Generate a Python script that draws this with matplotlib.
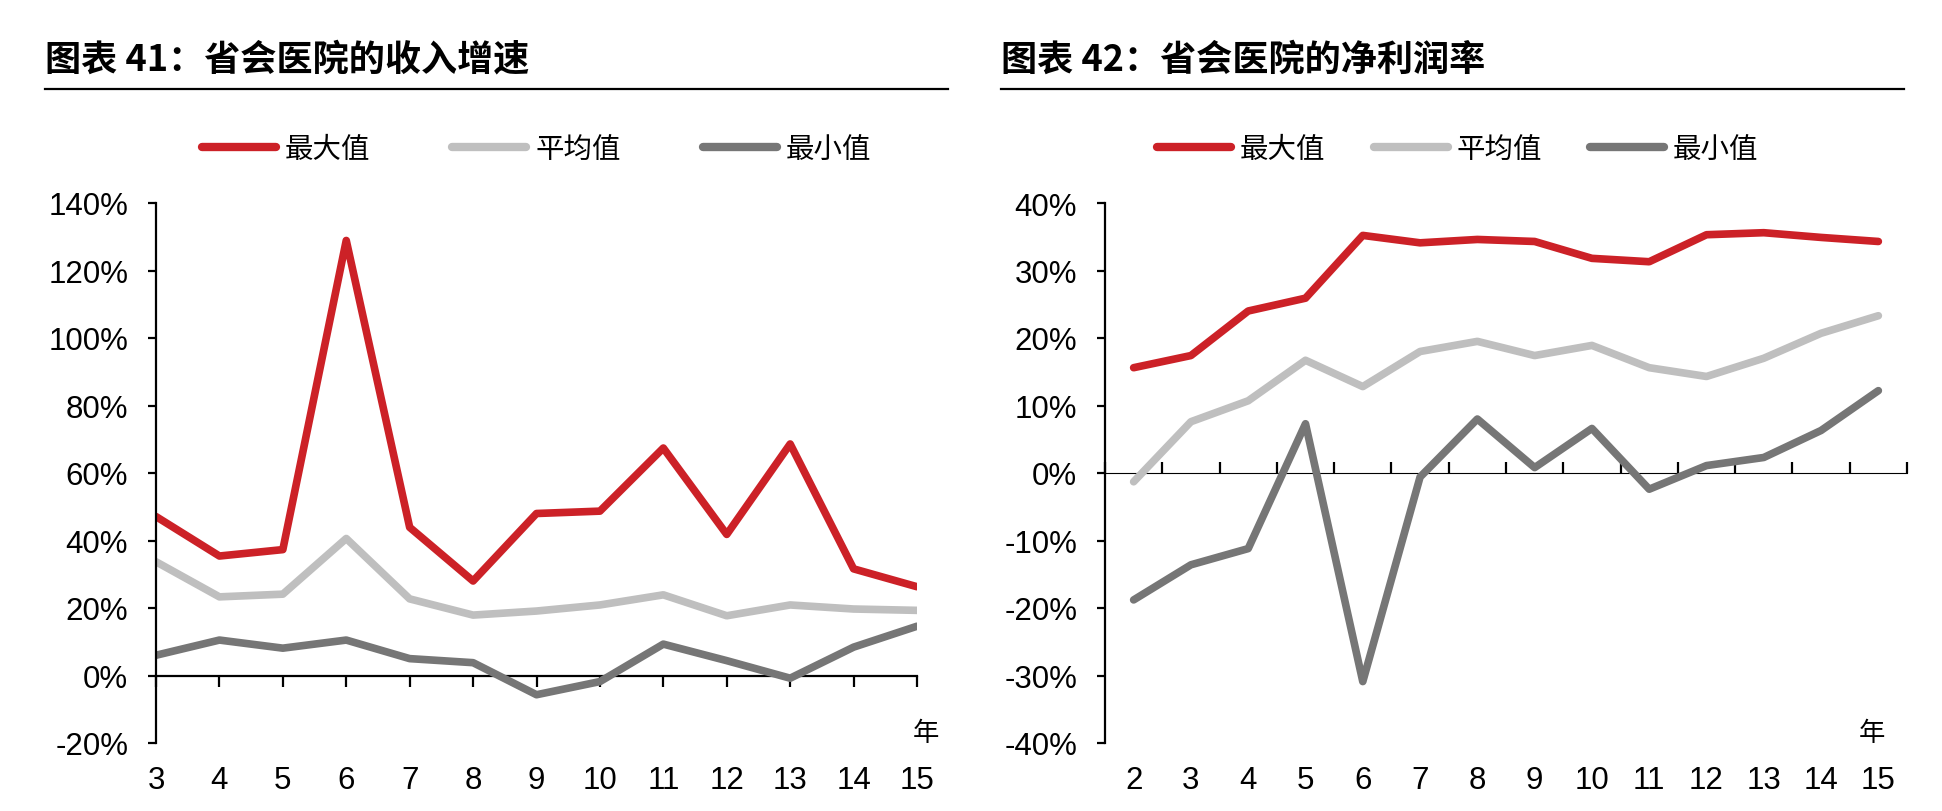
import matplotlib
matplotlib.use("Agg")
import matplotlib.pyplot as plt
from matplotlib import font_manager as fm
from matplotlib.lines import Line2D
from matplotlib.ticker import FuncFormatter

# data (percent)
years_a = [3, 4, 5, 6, 7, 8, 9, 10, 11, 12, 13, 14, 15]
growth_max = [47.1, 35.4, 37.3, 128.9, 43.9, 28.0, 48.0, 48.7, 67.4, 41.8, 68.6, 31.6, 26.3]
growth_avg = [33.7, 23.3, 24.1, 40.6, 22.7, 17.9, 19.1, 20.9, 23.9, 17.7, 20.9, 19.7, 19.3]
growth_min = [6.0, 10.5, 8.1, 10.5, 5.0, 3.8, -5.7, -1.8, 9.3, 4.4, -0.8, 8.4, 14.6]

years_b = [2, 3, 4, 5, 6, 7, 8, 9, 10, 11, 12, 13, 14, 15]
margin_max = [15.6, 17.4, 24.0, 25.9, 35.2, 34.1, 34.6, 34.3, 31.8, 31.3, 35.3, 35.6, 34.9, 34.3]
margin_avg = [-1.3, 7.6, 10.7, 16.7, 12.8, 18.0, 19.5, 17.4, 18.9, 15.6, 14.3, 17.0, 20.7, 23.3]
margin_min = [-18.8, -13.6, -11.2, 7.3, -30.9, -0.6, 8.0, 0.8, 6.6, -2.4, 1.1, 2.3, 6.3, 12.2]

titles = ["图表 41：省会医院的收入增速", "图表 42：省会医院的净利润率"]
series_names = ["最大值", "平均值", "最小值"]
colors = ["#CC2127", "#BFBFBF", "#767676"]

installed = {f.name for f in fm.fontManager.ttflist}
num_font = "Liberation Sans Narrow" if "Liberation Sans Narrow" in installed else "Liberation Sans"
num_size = 25 if num_font == "Liberation Sans Narrow" else 22.5
cjk = "Noto Sans CJK SC"

fig = plt.figure(figsize=(19.42, 8.12), dpi=100)
W, H = 1942, 812

def setup(ax, xs, series, ylim, yticks, xlim, sec_ticks, zero_frac, nian_x, leg_x, colsp):
    for vals, c, name in zip(series, colors, series_names):
        ax.plot(xs, vals, color=c, lw=5.5, label=name, solid_capstyle="round",
                solid_joinstyle="round")
    ax.set_xlim(*xlim)
    ax.set_ylim(*ylim)
    ax.set_yticks(yticks)
    ax.yaxis.set_major_formatter(FuncFormatter(lambda v, p: "%d%%" % v))
    ax.set_xticks(xs)
    ax.set_xticklabels([str(x) for x in xs])
    for s in ["top", "right", "bottom"]:
        ax.spines[s].set_visible(False)
    ax.spines["left"].set_linewidth(1.6)
    ax.tick_params(axis="x", length=0, pad=16)
    ax.tick_params(axis="y", direction="out", length=6, width=1.6, pad=14)
    for lab in ax.get_xticklabels() + ax.get_yticklabels():
        lab.set_fontfamily(num_font)
        lab.set_fontsize(num_size)
    sec = ax.secondary_xaxis(zero_frac)
    sec.set_xticks(sec_ticks)
    sec.tick_params(direction="out", length=8, width=1.6, labelbottom=False, labeltop=False)
    sec.spines["bottom"].set_linewidth(1.6)
    ax.text(nian_x, -0.005, "年", transform=ax.transAxes, ha="center", va="bottom",
            fontsize=19, family=cjk)
    leg = ax.legend(loc="center", bbox_to_anchor=(leg_x, 1.1), ncol=3, frameon=False,
                    handlelength=2.6, handletextpad=0.3, columnspacing=colsp,
                    prop={"family": cjk, "size": 20.5})
    for h in leg.get_lines():
        h.set_linewidth(6)

ax1 = fig.add_axes([156 / W, 1 - 744 / H, (917 - 156) / W, 540 / H])
setup(ax1, years_a, [growth_max, growth_avg, growth_min], (-20, 140),
      list(range(-20, 141, 20)), (3, 15), years_a, 20 / 160, 1.012, 0.5, 2.9)

ax2 = fig.add_axes([1105 / W, 1 - 744 / H, (1907 - 1105) / W, 540 / H])
setup(ax2, years_b, [margin_max, margin_avg, margin_min], (-40, 40),
      list(range(-40, 41, 10)), (1.5, 15.5), [x + 0.5 for x in [1] + years_b], 0.5,
      0.956, 0.44, 1.7)

# titles with underline
for x0, x1, t in [(45, 948, titles[0]), (1001, 1904, titles[1])]:
    fig.text(x0 / W, 1 - 60 / H, t, ha="left", va="center", fontsize=26,
             fontweight="bold", family=cjk)
    fig.add_artist(Line2D([x0 / W, x1 / W], [1 - 90 / H, 1 - 90 / H],
                          color="black", lw=1.6, transform=fig.transFigure))

fig.savefig("out.png", dpi=100, facecolor="white")
